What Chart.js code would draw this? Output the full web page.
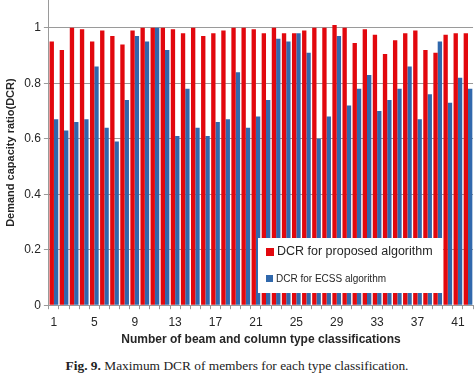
<!DOCTYPE html>
<html>
<head>
<meta charset="utf-8">
<script src="https://cdn.jsdelivr.net/npm/chart.js@4"></script>
<style>
  html, body { margin: 0; padding: 0; background: #fff; }
  #wrap { position: relative; width: 474px; height: 373px; overflow: hidden; }
  #caption {
    position: absolute; left: 0; top: 358px; width: 474px; text-align: center;
    font-family: "Liberation Serif", serif; font-size: 13.4px; color: #222;
  }
</style>
</head>
<body>
<div id="wrap">
  <canvas id="dcr-chart" width="474" height="349"></canvas>
  <div id="caption"><b>Fig. 9.</b> Maximum DCR of members for each type classification.</div>
</div>
<script>
// type classification numbers
const categories = ['1', '2', '3', '4', '5', '6', '7', '8', '9', '10', '11', '12', '13', '14',
  '15', '16', '17', '18', '19', '20', '21', '22', '23', '24', '25', '26', '27', '28',
  '29', '30', '31', '32', '33', '34', '35', '36', '37', '38', '39', '40', '41', '42'];
const shownLabels = ['1', '5', '9', '13', '17', '21', '25', '29', '33', '37', '41'];

const dcrProposed = [0.95, 0.92, 1.0, 0.995, 0.95, 0.99, 0.97, 0.94, 0.99, 1.0, 1.0, 1.0, 0.995, 0.98,
  1.0, 0.97, 0.98, 0.99, 1.0, 1.0, 0.995, 0.98, 1.0, 0.98, 0.98, 0.99, 1.0, 1.0,
  1.01, 1.0, 0.945, 0.995, 0.975, 0.905, 0.955, 0.98, 0.99, 0.92, 0.91, 0.975, 0.98, 0.98];
const dcrEcss = [0.67, 0.63, 0.66, 0.67, 0.86, 0.64, 0.59, 0.74, 0.97, 0.95, 1.0, 0.92, 0.61, 0.78,
  0.64, 0.61, 0.66, 0.67, 0.84, 0.64, 0.68, 0.74, 0.96, 0.95, 0.98, 0.91, 0.60, 0.68,
  0.97, 0.72, 0.78, 0.83, 0.70, 0.74, 0.78, 0.86, 0.67, 0.76, 0.95, 0.73, 0.82, 0.78];

const RED = 'rgb(226,8,14)';
const BLUE = 'rgb(48,104,172)';
const GRID = '#9a9a9a';
const TEXT = '#262626';

// boxed legend drawn over the bars, as in the figure
const boxLegend = {
  id: 'boxLegend',
  afterDatasetsDraw(chart) {
    const ctx = chart.ctx;
    ctx.save();
    ctx.fillStyle = '#fff';
    ctx.fillRect(258, 238, 185, 55);
    ctx.textBaseline = 'middle';

    ctx.fillStyle = RED;
    ctx.fillRect(266, 248, 8, 8);
    ctx.fillStyle = TEXT;
    ctx.font = '12.5px "Liberation Sans", Arial, sans-serif';
    ctx.fillText(chart.data.datasets[0].label, 277, 252);

    ctx.fillStyle = BLUE;
    ctx.fillRect(266, 275, 7, 7);
    ctx.fillStyle = TEXT;
    ctx.font = '10px "Liberation Sans", Arial, sans-serif';
    ctx.fillText(chart.data.datasets[1].label, 276, 279);
    ctx.restore();
  }
};

new Chart(document.getElementById('dcr-chart'), {
  type: 'bar',
  data: {
    labels: categories,
    datasets: [{
      label: 'DCR for proposed algorithm',
      backgroundColor: RED,
      data: dcrProposed,
      barPercentage: 1,
      categoryPercentage: 0.86
    }, {
      label: 'DCR for ECSS algorithm',
      backgroundColor: BLUE,
      data: dcrEcss,
      barPercentage: 1,
      categoryPercentage: 0.86
    }]
  },
  options: {
    responsive: false,
    animation: false,
    layout: {
      padding: 0
    },
    plugins: {
      legend: {
        display: false
      },
      tooltip: {
        enabled: false
      }
    },
    scales: {
      x: {
        border: {
          color: GRID
        },
        grid: {
          color: GRID,
          drawOnChartArea: false,
          tickLength: 4
        },
        ticks: {
          autoSkip: false,
          maxRotation: 0,
          color: TEXT,
          padding: 6,
          font: {
            family: '"Liberation Sans", Arial, sans-serif',
            size: 12
          },
          callback: function (value) {
            const lbl = this.getLabelForValue(value);
            return shownLabels.includes(lbl) ? lbl : '';
          }
        },
        title: {
          display: true,
          text: 'Number of beam and column type classifications',
          color: TEXT,
          padding: { top: -3, bottom: 2 },
          font: {
            family: '"Liberation Sans", Arial, sans-serif',
            size: 12,
            weight: 'bold'
          }
        }
      },
      y: {
        min: 0,
        max: 1.1,
        // plot runs to the very top of the figure
        afterFit: (scale) => {
          scale.paddingTop = 0;
          scale.paddingBottom = 0;
        },
        border: {
          color: GRID
        },
        grid: {
          color: GRID,
          tickLength: 5
        },
        ticks: {
          stepSize: 0.2,
          includeBounds: false,
          color: TEXT,
          padding: 3,
          font: {
            family: '"Liberation Sans", Arial, sans-serif',
            size: 12
          },
          callback: (value) => String(Number(value.toFixed(1)))
        },
        title: {
          display: true,
          text: 'Demand capacity ratio(DCR)',
          color: TEXT,
          padding: 4,
          font: {
            family: '"Liberation Sans", Arial, sans-serif',
            size: 11,
            weight: 'bold'
          }
        }
      }
    }
  },
  plugins: [boxLegend]
});
</script>
</body>
</html>
